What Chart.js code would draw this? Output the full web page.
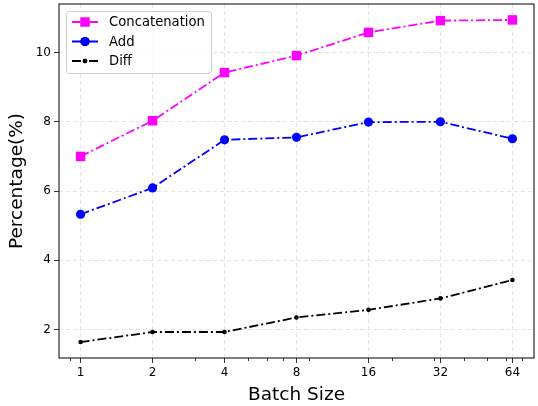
<!DOCTYPE html>
<html>
<head>
<meta charset="utf-8">
<script src="https://cdn.jsdelivr.net/npm/chart.js@4"></script>
<style>
  html, body { margin: 0; padding: 0; background: #fff; }
  #chart { display: block; }
</style>
</head>
<body>
<canvas id="chart" width="538" height="406"></canvas>
<script>
// batch sizes on a log2 x axis
const batchSizes = [1, 2, 4, 8, 16, 32, 64]
const concatValues = [7.0, 8.03, 9.42, 9.91, 10.58, 10.92, 10.94]
const addValues = [5.33, 6.09, 7.48, 7.55, 7.99, 8.0, 7.51]
const diffValues = [1.64, 1.93, 1.93, 2.35, 2.57, 2.9, 3.43]
const yTicks = [2, 4, 6, 8, 10]
const xMinorTicks = [0.9, 3, 5, 6, 7, 9, 20, 30, 40, 50, 60, 70]
const xLimits = [-0.3, 6.3] // in log2 units
const yLimits = [1.18, 11.4]

const dashDot = [9, 3, 2, 3]
const fontFamily = "'DejaVu Sans', sans-serif"

function toPoints(values) {
    return batchSizes.map((b, i) => ({ x: Math.log2(b), y: values[i] }))
}

// top/right frame + minor ticks on x axis
const framePlugin = {
    id: "frame",
    afterDraw(chart) {
        const { ctx, chartArea } = chart
        const xScale = chart.scales.x
        ctx.save()
        ctx.strokeStyle = "#000"
        ctx.lineWidth = 1
        ctx.setLineDash([])
        ctx.strokeRect(chartArea.left, chartArea.top, chartArea.right - chartArea.left, chartArea.bottom - chartArea.top)
        ctx.lineWidth = 0.8
        for (const m of xMinorTicks) {
            const px = Math.round(xScale.getPixelForValue(Math.log2(m))) + 0.5
            ctx.beginPath()
            ctx.moveTo(px, chartArea.bottom)
            ctx.lineTo(px, chartArea.bottom + 3)
            ctx.stroke()
        }
        ctx.restore()
    },
}

// matplotlib-like legend box in upper left
const legendPlugin = {
    id: "mplLegend",
    afterDraw(chart) {
        const { ctx, chartArea } = chart
        const boxX = chartArea.left + 7
        const boxY = chartArea.top + 7
        const boxW = 145
        const boxH = 62
        ctx.save()
        ctx.setLineDash([])
        ctx.fillStyle = "rgba(255,255,255,0.8)"
        ctx.strokeStyle = "#cccccc"
        ctx.lineWidth = 1
        ctx.beginPath()
        ctx.roundRect(boxX + 0.5, boxY + 0.5, boxW, boxH, 3)
        ctx.fill()
        ctx.stroke()

        chart.data.datasets.forEach((ds, i) => {
            const rowY = boxY + 11 + i * 19.5
            const x1 = boxX + 6
            const x2 = boxX + 32
            ctx.strokeStyle = ds.borderColor
            ctx.lineWidth = ds.borderWidth
            ctx.setLineDash(ds.borderDash)
            ctx.beginPath()
            ctx.moveTo(x1, rowY)
            ctx.lineTo(x2, rowY)
            ctx.stroke()
            ctx.setLineDash([])
            Chart.helpers.drawPoint(ctx, {
                pointStyle: ds.pointStyle,
                radius: ds.pointRadius,
                rotation: 0,
                borderWidth: 0,
            }, (x1 + x2) / 2, rowY)
            ctx.fillStyle = ds.pointBackgroundColor
            ctx.fill()
            ctx.fillStyle = "#000"
            ctx.font = "13.2px " + fontFamily
            ctx.textBaseline = "middle"
            ctx.textAlign = "left"
            ctx.fillText(ds.label, boxX + 43, rowY + 1)
        })
        ctx.restore()
    },
}

function makeDataset(label, values, color, pointStyle, radius) {
    return {
        label: label,
        data: toPoints(values),
        borderColor: color,
        backgroundColor: color,
        pointBackgroundColor: color,
        pointBorderColor: color,
        pointBorderWidth: 0,
        pointStyle: pointStyle,
        pointRadius: radius,
        pointHoverRadius: radius,
        borderWidth: 1.8,
        borderDash: dashDot,
        tension: 0,
    }
}

new Chart(document.getElementById("chart"), {
    type: "line",
    data: {
        datasets: [
            makeDataset("Concatenation", concatValues, "#ff00ff", "rect", 6.7),
            makeDataset("Add", addValues, "#0000ff", "circle", 4.6),
            makeDataset("Diff", diffValues, "#000000", "circle", 2.3),
        ],
    },
    options: {
        responsive: false,
        animation: false,
        devicePixelRatio: 1,
        layout: { autoPadding: false, padding: { top: 4, right: 4, left: 0, bottom: 0 } },
        plugins: {
            legend: { display: false },
            tooltip: { enabled: false },
        },
        scales: {
            x: {
                type: "linear",
                min: xLimits[0],
                max: xLimits[1],
                afterBuildTicks: (scale) => {
                    scale.ticks = batchSizes.map((b) => ({ value: Math.log2(b) }))
                },
                afterFit: (scale) => {
                    scale.height = 48
                    scale.paddingLeft = 0
                    scale.paddingRight = 0
                },
                ticks: {
                    callback: (value) => String(Math.round(Math.pow(2, value))),
                    font: { family: fontFamily, size: 12 },
                    color: "#000",
                    padding: 3,
                    maxRotation: 0,
                },
                grid: {
                    color: "#dcdcdc",
                    lineWidth: 0.8,
                    tickColor: "#000",
                    tickLength: 5,
                    tickWidth: 0.8,
                },
                border: { display: false, dash: [4, 3] },
                title: {
                    display: true,
                    text: "Batch Size",
                    color: "#000",
                    font: { family: fontFamily, size: 18.5, lineHeight: 1.2 },
                    padding: { top: 0, bottom: 0 },
                },
            },
            y: {
                type: "linear",
                min: yLimits[0],
                max: yLimits[1],
                afterBuildTicks: (scale) => {
                    scale.ticks = yTicks.map((v) => ({ value: v }))
                },
                afterFit: (scale) => {
                    scale.width = 59
                    scale.paddingTop = 0
                    scale.paddingBottom = 0
                },
                ticks: {
                    callback: (value) => String(value),
                    font: { family: fontFamily, size: 12 },
                    color: "#000",
                    padding: 3,
                },
                grid: {
                    color: "#dcdcdc",
                    lineWidth: 0.8,
                    tickColor: "#000",
                    tickLength: 5,
                    tickWidth: 0.8,
                },
                border: { display: false, dash: [4, 3] },
                title: {
                    display: true,
                    text: "Percentage(%)",
                    color: "#000",
                    font: { family: fontFamily, size: 18.5, lineHeight: 1.2 },
                    padding: { top: 6, bottom: 0 },
                },
            },
        },
    },
    plugins: [framePlugin, legendPlugin],
})
</script>
</body>
</html>
